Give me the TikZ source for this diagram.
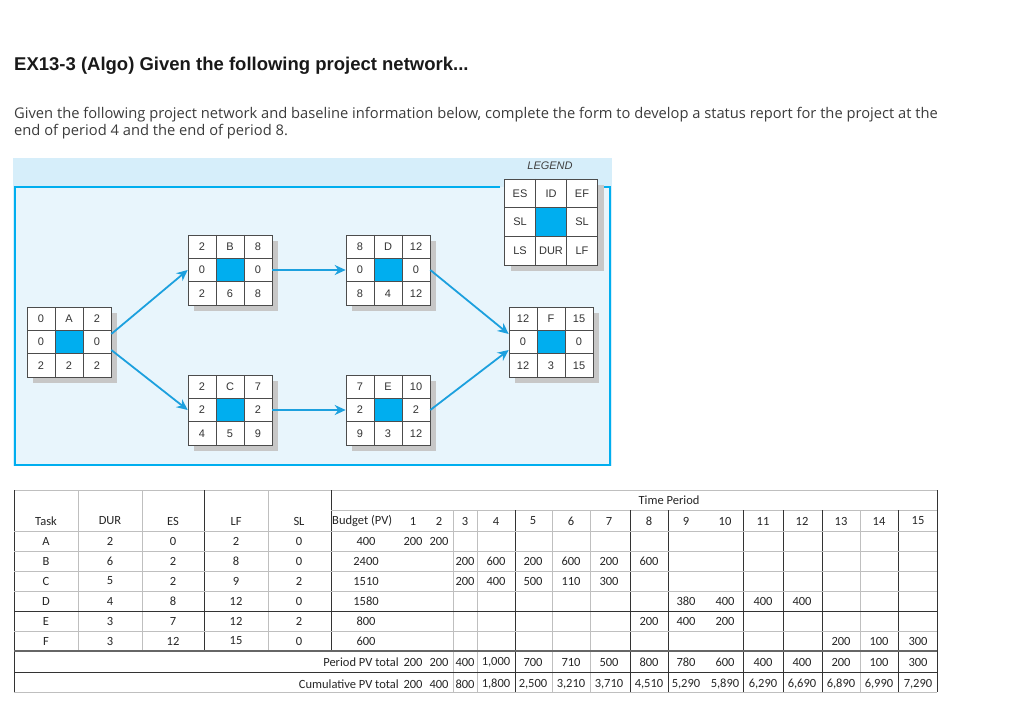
\documentclass[tikz,border=0pt]{standalone}
\usepackage{fontspec}
\setmainfont{Open Sans}
\newfontfamily\tabf{Carlito}
\newfontfamily\netf{Liberation Sans}
\usetikzlibrary{calc,arrows.meta}
\definecolor{netblue}{RGB}{0,174,239}
\definecolor{arrblue}{RGB}{28,160,222}
\definecolor{bgblue}{RGB}{214,238,250}
\definecolor{bgin}{RGB}{232,245,252}
\definecolor{txtgray}{RGB}{60,60,60}
\tikzset{
  nb/.style={draw=black!70,line width=0.6pt,fill=white,inner sep=0pt},
  ct/.style={font=\netf\fontsize{11}{11}\selectfont,text=black!80},
  arr/.style={draw=arrblue,line width=1.8pt,-{Stealth[length=11pt,width=10pt]}},
  tt/.style={font=\tabf\fontsize{12.5}{12}\selectfont,text=black!85,inner sep=0pt},
  gl/.style={draw=black!25,line width=0.6pt},
  bl/.style={draw=black!80,line width=0.7pt},
}
\newcommand{\grid}[6]{%
  \fill[black!22] (#2-#4/2+6,#3-#5/2+6) rectangle (#2+#4/2+6,#3+#5/2+6);
  \node[nb,minimum width=#4pt,minimum height=#5pt] (#1) at (#2,#3) {};
  \fill[netblue] (#2-#4/6,#3-#5/6) rectangle (#2+#4/6,#3+#5/6);
  \draw[black!70,line width=0.6pt] (#2-#4/6,#3-#5/2) -- (#2-#4/6,#3+#5/2)
     (#2+#4/6,#3-#5/2) -- (#2+#4/6,#3+#5/2)
     (#2-#4/2,#3-#5/6) -- (#2+#4/2,#3-#5/6)
     (#2-#4/2,#3+#5/6) -- (#2+#4/2,#3+#5/6);
  \foreach \t [count=\i from 0] in {#6} {
    \pgfmathsetmacro\cc{mod(\i,3)-1}
    \pgfmathsetmacro\rr{floor(\i/3)-1}
    \node[ct] at (#2+\cc*#4/3,#3+\rr*#5/3) {\t};
  }
}
\begin{document}
\begin{tikzpicture}[x=1pt,y=-1pt]
\useasboundingbox (0,0) rectangle (1024,708);
\fill[white] (0,0) rectangle (1024,708);
\node[anchor=west,inner sep=0pt,font=\netf\bfseries\fontsize{18.5}{19}\selectfont,text=black!90] (title) at (14,66) {EX13-3 (Algo) Given the following project network...};
\node[anchor=west,inner sep=0pt,font=\fontsize{14.7}{14}\selectfont,text=txtgray] (p1) at (14,115) {Given the following project network and baseline information below, complete the form to develop a status report for the project at the};
\node[anchor=west,inner sep=0pt,font=\fontsize{14.7}{14}\selectfont,text=txtgray] (p2) at (14,132) {end of period 4 and the end of period 8.};
% network background
\fill[bgblue] (13,158) rectangle (612,466);
\fill[bgin] (15,187) rectangle (610,465);
\draw[netblue,line width=1.2pt] (500,187) -- (15,187) -- (15,465) -- (610,465) -- (610,187) -- (600,187);
\node[font=\netf\itshape\fontsize{11}{11}\selectfont,text=black!75] (leg) at (550,166) {LEGEND};
\grid{L}{551}{222}{93}{86}{ES,ID,EF,SL,,SL,LS,DUR,LF}
\grid{A}{69}{342}{84}{70}{0,A,2,0,,0,2,2,2}
\grid{B}{230}{270}{84}{70}{2,B,8,0,,0,2,6,8}
\grid{D}{388}{270}{84}{70}{8,D,12,0,,0,8,4,12}
\grid{C}{230}{410}{84}{70}{2,C,7,2,,2,4,5,9}
\grid{E}{388}{410}{84}{70}{7,E,10,2,,2,9,3,12}
\grid{F}{551}{342}{84}{70}{12,F,15,0,,0,12,3,15}
\draw[arr] ($(A.east)+(0,-8)$) -- (B.west);
\draw[arr] ($(A.east)+(0,8)$) -- (C.west);
\draw[arr] (B.east) -- (D.west);
\draw[arr] (C.east) -- (E.west);
\draw[arr] (D.east) -- ($(F.west)+(0,-8)$);
\draw[arr] (E.east) -- ($(F.west)+(0,8)$);
% table lines
\draw[gl] (14,490) -- (937,490);
\draw[bl] (14,490) -- (14,692);
\draw[bl] (937,490) -- (937,510);
\foreach \x in {78,142,204,268,331} \draw[gl] (\x,490) -- (\x,651);
\foreach \x in {204,331} \draw[bl] (\x,490) -- (\x,651);
\draw[gl] (331,510) -- (937,510);
\foreach \x in {453,477,515,552,590,630,668,743,783,822,860,898,937} \draw[gl] (\x,510) -- (\x,692);
\foreach \x in {515,630,668,743,783,822,898,937} \draw[bl] (\x,510) -- (\x,692);
\foreach \y in {531,551,571,591,631} \draw[gl] (14,\y) -- (937,\y);
\draw[bl] (14,611) -- (937,611);
\draw[draw=black!60,line width=1.4pt] (14,651) -- (937,651);
\draw[bl] (14,672) -- (937,672);
\draw[gl] (14,692) -- (937,692);
% table text
\node[tt] (tp) at (669,500) {Time Period};
\foreach \t/\x in {Task/46,DUR/110,ES/173,LF/236,SL/299} \node[tt] at (\x,521) {\t};
\node[tt,anchor=west] at (332,521) {Budget (PV)};
\foreach \t [count=\i] in {413,439,465,496,533,571,609,649,686,725,763,802,841,879,918} \node[tt] at (\t,521) {\i};
\foreach \a/\b/\c/\d/\e/\f [count=\r from 0] in {A/2/0/2/0/400,B/6/2/8/0/2400,C/5/2/9/2/1510,D/4/8/12/0/1580,E/3/7/12/2/800,F/3/12/15/0/600} {
  \pgfmathsetmacro\yy{541+20*\r}
  \node[tt] at (46,\yy) {\a}; \node[tt] at (110,\yy) {\b}; \node[tt] at (173,\yy) {\c};
  \node[tt] at (236,\yy) {\d}; \node[tt] at (299,\yy) {\e}; \node[tt] at (366,\yy) {\f};
}
\foreach \x/\y/\t in {413/541/200,439/541/200,
  465/561/200,496/561/600,533/561/200,571/561/600,609/561/200,649/561/600,
  465/581/200,496/581/400,533/581/500,571/581/110,609/581/300,
  686/601/380,725/601/400,763/601/400,802/601/400,
  649/621/200,686/621/400,725/621/200,
  841/641/200,879/641/100,918/641/300}
  \node[tt] at (\x,\y) {\t};
\node[tt,anchor=east] at (399,662) {Period PV total};
\node[tt,anchor=east] at (399,684) {Cumulative PV total};
\foreach \t [count=\i] in {200,200,400,{1,000},700,710,500,800,780,600,400,400,200,100,300} {
  \pgfmathsetmacro\xx{{0,413,439,465,496,533,571,609,649,686,725,763,802,841,879,918}[\i]}
  \node[tt] at (\xx,662) {\t};
}
\foreach \t [count=\i] in {200,400,800,{1,800},{2,500},{3,210},{3,710},{4,510},{5,290},{5,890},{6,290},{6,690},{6,890},{6,990},{7,290}} {
  \pgfmathsetmacro\xx{{0,413,439,465,496,533,571,609,649,686,725,763,802,841,879,918}[\i]}
  \node[tt] at (\xx,684) {\t};
}
\end{tikzpicture}
\end{document}
